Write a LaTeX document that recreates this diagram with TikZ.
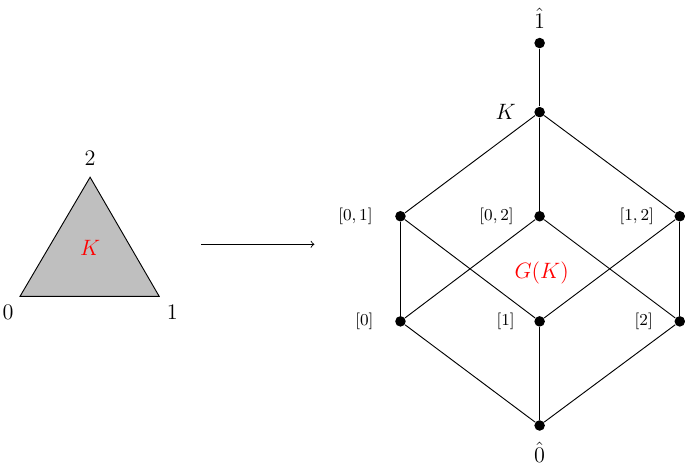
\documentclass[tikz,border=0pt]{standalone}
\begin{document}
\begin{tikzpicture}[every node/.style={font=\large}, line width=0.5pt,
  dot/.style={circle, fill=black, inner sep=0pt, minimum size=0.2cm},
  face/.style={font=\small}]
  \useasboundingbox (0,0) rectangle (13.0,8.911);

  % simplex
  \coordinate (v0) at (0.38,3.287);
  \coordinate (v1) at (3.021,3.287);
  \coordinate (v2) at (1.71,5.548);
  \filldraw[fill=gray!50, draw=black] (v0) -- (v1) -- (v2) -- cycle;
  \node (l0) at (0.152,2.983) {$0$};
  \node (l1) at (3.268,2.983) {$1$};
  \node (l2) at (1.71,5.909) {$2$};
  \node[red] (lK) at (1.71,4.199) {$K$};

  % map
  \coordinate (a0) at (3.819,4.275);
  \coordinate (a1) at (5.966,4.275);
  \draw[->] (a0) -- (a1);

  % face poset
  \node[dot] (top) at (10.241,8.094) {};
  \node[dot] (k) at (10.241,6.783) {};
  \node[dot] (p01) at (7.6,4.807) {};
  \node[dot] (p02) at (10.241,4.807) {};
  \node[dot] (p12) at (12.901,4.807) {};
  \node[dot] (p0) at (7.6,2.812) {};
  \node[dot] (p1) at (10.241,2.812) {};
  \node[dot] (p2) at (12.901,2.812) {};
  \node[dot] (bot) at (10.241,0.836) {};

  \draw (top) -- (k);
  \draw (k) -- (p01);
  \draw (k) -- (p02);
  \draw (k) -- (p12);
  \draw (p01) -- (p0);
  \draw (p01) -- (p1);
  \draw (p02) -- (p0);
  \draw (p02) -- (p2);
  \draw (p12) -- (p1);
  \draw (p12) -- (p2);
  \draw (p0) -- (bot);
  \draw (p1) -- (bot);
  \draw (p2) -- (bot);

  \node (ltop) at (10.241,8.569) {$\hat{1}$};
  \node (lk) at (9.595,6.783) {$K$};
  \node[face] (l01) at (6.745,4.807) {$[0,1]$};
  \node[face] (l02) at (9.424,4.807) {$[0,2]$};
  \node[face] (l12) at (12.084,4.807) {$[1,2]$};
  \node[face] (lp0) at (6.916,2.812) {$[0]$};
  \node[face] (lp1) at (9.595,2.812) {$[1]$};
  \node[face] (lp2) at (12.217,2.812) {$[2]$};
  \node (lbot) at (10.241,0.323) {$\hat{0}$};
  \node[red] (lG) at (10.279,3.724) {$G(K)$};
\end{tikzpicture}
\end{document}
